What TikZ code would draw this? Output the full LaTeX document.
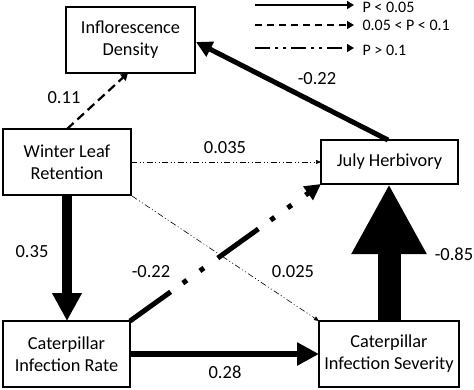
\documentclass[tikz,border=0pt]{standalone}
\usepackage{fontspec}
\setmainfont{Carlito}
\usetikzlibrary{arrows.meta}
\begin{document}
\begin{tikzpicture}[x=1pt,y=-1pt,
  box/.style={draw,line width=1.8pt,minimum width=#1,align=center,inner sep=0pt,font=\fontsize{18.3}{22}\selectfont},
  lab/.style={font=\fontsize{18.5}{22}\selectfont},
  leg/.style={font=\fontsize{16}{19}\selectfont,anchor=west},
  ddot/.style={dash pattern=on 15pt off 5pt on 2.5pt off 5.5pt on 2.5pt off 5.5pt},
  thindd/.style={line width=0.6pt,dash pattern=on 6pt off 2.5pt on 1pt off 2.5pt on 1pt off 2.5pt},
  bigdd/.style={dash pattern=on 50pt off 15pt on 5pt off 16pt on 5pt off 17pt}]
\useasboundingbox (0,0) rectangle (474,389);
% boxes
\node[box=129pt,minimum height=66pt] (ID) at (130.5,40) {Inflorescence\\Density};
\node[box=128pt,minimum height=66pt] (WLR) at (67,162) {Winter Leaf\\Retention};
\node[box=137pt,minimum height=44pt] (JH) at (389.5,162) {July Herbivory};
\node[box=127pt,minimum height=66pt] (CIR) at (66.5,354) {Caterpillar\\Infection Rate};
\node[box=140pt,minimum height=66pt] (CIS) at (389,354) {Caterpillar\\Infection Severity};
% coordinates
\coordinate (wlrT) at (67,129);
\coordinate (idB) at (128,73);
\coordinate (jhT) at (388,140);
\coordinate (idR) at (196,42);
\coordinate (wlrR) at (131,162);
\coordinate (jhL) at (321,162);
\coordinate (wlrBR) at (132,196);
\coordinate (cisTL) at (319,321);
\coordinate (wlrB) at (67,195);
\coordinate (cirT) at (67,321);
\coordinate (cirTR) at (130,321);
\coordinate (jhBL) at (321,184);
\coordinate (cirR) at (130,354);
\coordinate (cisL) at (319,354);
\coordinate (cisT) at (389,321);
\coordinate (jhB) at (389,184);
% connectors
\draw[line width=2.2pt,dash pattern=on 9pt off 5pt,-{Triangle[length=7pt,width=8pt]}] (wlrT) -- (idB);
\node[lab] (l011) at (64,98) {0.11};
\draw[line width=5pt,-{Triangle[length=16pt,width=16pt]}] (jhT) -- (idR);
\node[lab] (l022a) at (317,79) {-0.22};
\draw[thindd,-{Triangle[length=5pt,width=4pt]}] (wlrR) -- (jhL);
\node[lab] (l035) at (225,148) {0.035};
\draw[thindd,-{Triangle[length=5pt,width=4pt]}] (wlrBR) -- (cisTL);
\node[lab] (l025) at (293,272) {0.025};
\draw[line width=10pt,-{Triangle[length=28pt,width=28pt]}] (wlrB) -- (cirT);
\node[lab] (l035b) at (32,252) {0.35};
\draw[line width=5pt,bigdd,-{Triangle[length=16pt,width=16pt]}] (cirTR) -- (jhBL);
\node[lab] (l022b) at (151,272) {-0.22};
\draw[line width=6pt,-{Triangle[length=22pt,width=22pt]}] (cirR) -- (cisL);
\node[lab] (l028) at (225,372) {0.28};
\draw[line width=23pt,-{Triangle[length=70pt,width=70pt]}] (cisT) -- (jhB);
\node[lab] (l085) at (454,254) {-0.85};
% legend
\coordinate (a1) at (255,5); \coordinate (b1) at (354,5);
\coordinate (a2) at (255,25); \coordinate (b2) at (354,25);
\coordinate (a3) at (255,48); \coordinate (b3) at (354,48);
\draw[line width=1.6pt,-{Triangle[length=7pt,width=8pt]}] (a1) -- (b1);
\draw[line width=1.6pt,dash pattern=on 7pt off 5pt,-{Triangle[length=7pt,width=8pt]}] (a2) -- (b2);
\draw[line width=1.6pt,ddot,-{Triangle[length=7pt,width=8pt]}] (a3) -- (b3);
\node[leg] (t1) at (359,7) {P < 0.05};
\node[leg] (t2) at (359,25) {0.05 < P < 0.1};
\node[leg] (t3) at (359,50) {P > 0.1};
\end{tikzpicture}
\end{document}
